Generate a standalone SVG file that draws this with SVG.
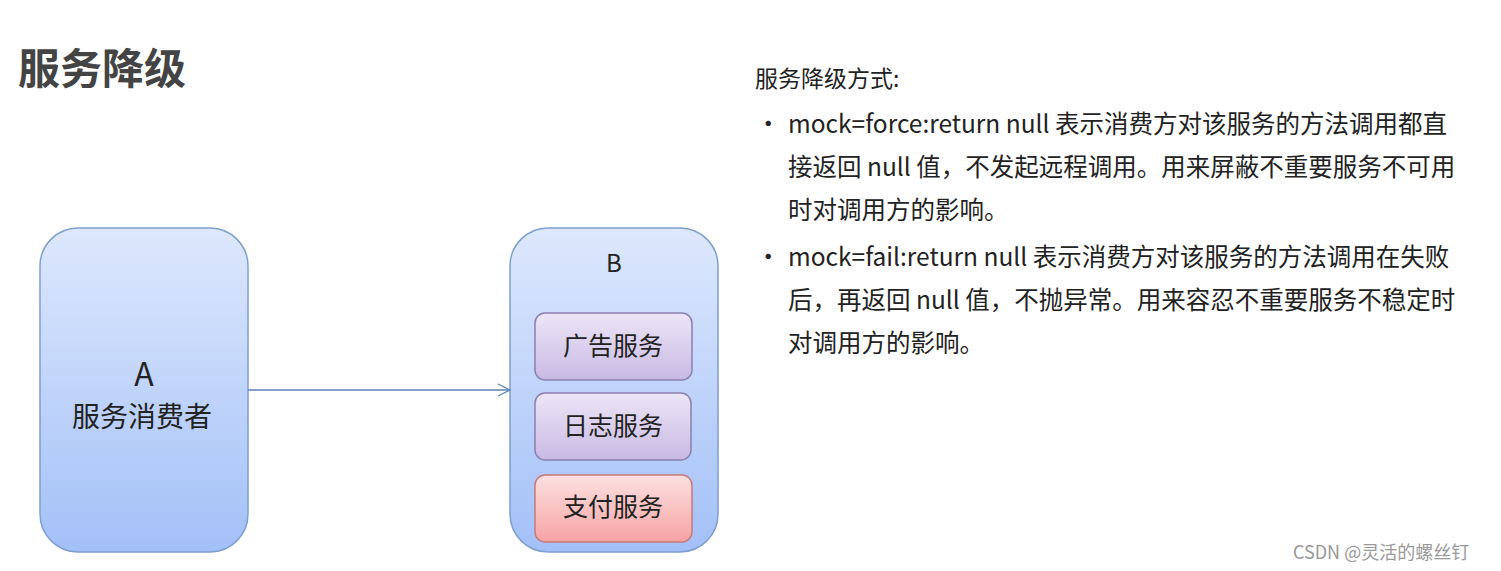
<svg xmlns="http://www.w3.org/2000/svg" width="1501" height="571" viewBox="0 0 1501 571">
<style>
text{font-family:"Microsoft YaHei","Noto Sans CJK SC","Liberation Sans",sans-serif;fill:#222}
.t{font-size:24.5px}
.in{font-size:25px;text-anchor:middle}
.big{stroke:#7f9fcf;stroke-width:1.5}
.sub{stroke:#8c7fae;stroke-width:1.5}
</style>
<defs>
<linearGradient id="gb" x1="0" y1="0" x2="0" y2="1"><stop offset="0" stop-color="#dde8fd"/><stop offset="1" stop-color="#a3c0f7"/></linearGradient>
<linearGradient id="gp" x1="0" y1="0" x2="0" y2="1"><stop offset="0" stop-color="#ede6f7"/><stop offset="1" stop-color="#c8b9e4"/></linearGradient>
<linearGradient id="gr" x1="0" y1="0" x2="0" y2="1"><stop offset="0" stop-color="#fde1e1"/><stop offset="1" stop-color="#f6a3a3"/></linearGradient>
<marker id="ar" markerWidth="14" markerHeight="14" refX="13" refY="7" orient="auto" markerUnits="userSpaceOnUse"><path d="M1,1 L13,7 L1,13" fill="none" stroke="#5b82b8" stroke-width="1.3"/></marker>
</defs>
<rect width="1501" height="571" fill="#fff"/>
<text x="18" y="84" style="font-size:42px;font-weight:bold;fill:#444">服务降级</text>
<g id="A"><rect x="40" y="228" width="208" height="324" rx="38" fill="url(#gb)" class="big"/>
<text x="144" y="386" class="in" style="font-size:32px">A</text>
<text x="142" y="427" class="in" style="font-size:28px">服务消费者</text></g>
<g id="B"><rect x="510" y="228" width="208" height="324" rx="38" fill="url(#gb)" class="big"/>
<text x="614" y="272" class="in" style="font-size:24px">B</text></g>
<g id="ad"><rect x="535" y="313" width="157" height="67" rx="10" fill="url(#gp)" class="sub"/><text x="613" y="355" class="in">广告服务</text></g>
<g id="log"><rect x="535" y="393" width="156" height="67" rx="10" fill="url(#gp)" class="sub"/><text x="613" y="435" class="in">日志服务</text></g>
<g id="pay"><rect x="535" y="475" width="157" height="67" rx="10" fill="url(#gr)" stroke="#c87a7a" stroke-width="1.5"/><text x="613" y="516" class="in">支付服务</text></g>
<g id="connectors"><line x1="248" y1="390" x2="510" y2="390" stroke="#5b82b8" stroke-width="1.3" marker-end="url(#ar)"/></g>
<g class="t">
<text x="755" y="87" style="font-size:23px">服务降级方式:</text>
<text x="756" y="133">•</text>
<text x="788" y="133">mock=force:return null 表示消费方对该服务的方法调用都直</text>
<text x="788" y="176">接返回 null 值，不发起远程调用。用来屏蔽不重要服务不可用</text>
<text x="788" y="219">时对调用方的影响。</text>
<text x="756" y="266">•</text>
<text x="788" y="266">mock=fail:return null 表示消费方对该服务的方法调用在失败</text>
<text x="788" y="309">后，再返回 null 值，不抛异常。用来容忍不重要服务不稳定时</text>
<text x="788" y="352">对调用方的影响。</text>
</g>
<text x="1293" y="559" style="font-size:18px;fill:#999">CSDN @灵活的螺丝钉</text>
</svg>
